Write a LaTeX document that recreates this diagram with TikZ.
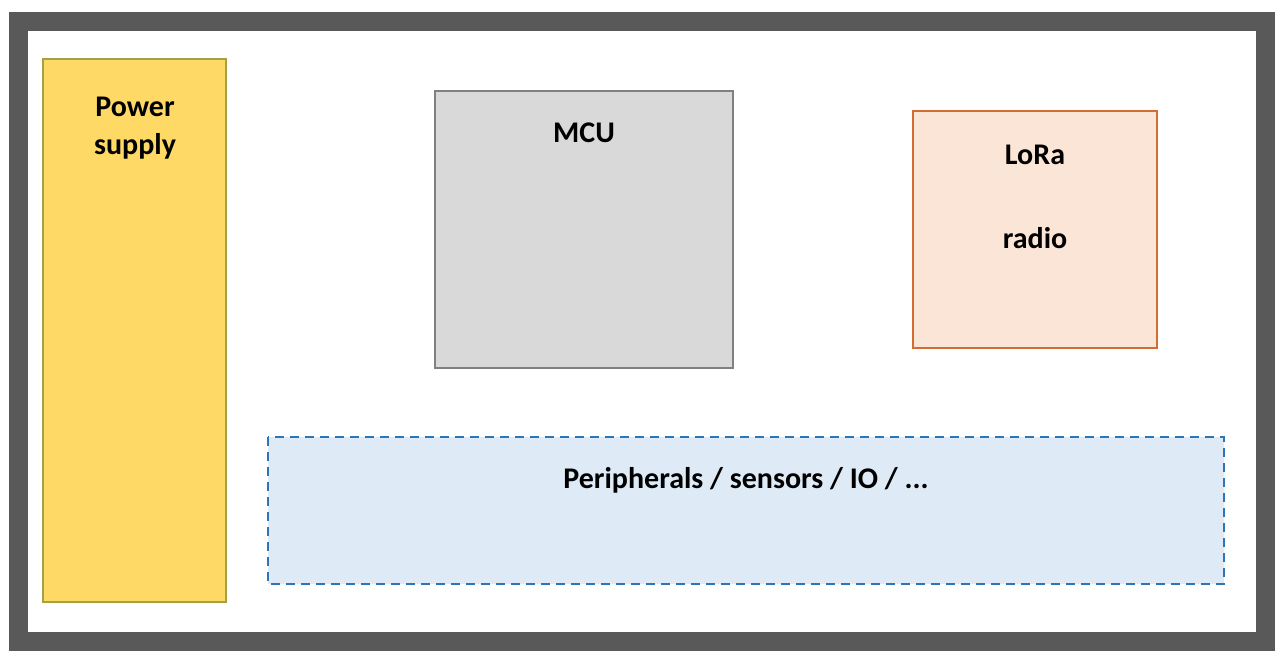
\documentclass[tikz,border=0pt]{standalone}
\usepackage{fontspec}
\setmainfont{Carlito}
\begin{document}
\begin{tikzpicture}[x=1pt,y=-1pt,
  box/.style={line width=1.5pt},
  lab/.style={font=\fontsize{30}{34}\selectfont\bfseries}]
\useasboundingbox (0,0) rectangle (1280,660);
\fill[white] (0,0) rectangle (1280,660);
\draw[line width=19pt,draw=black!65] (18,22) rectangle (1265,641);
\draw[box,fill=yellow!60!orange!70,draw=yellow!60!black,fill={rgb,255:red,255;green,217;blue,102}] (43,59) rectangle (226,602);
\node[lab,align=center] (ps) at (135,128) {Power\\[4pt]supply};
\draw[box,fill={rgb,255:red,217;green,217;blue,217},draw=black!50] (435,91) rectangle (733,368);
\node[lab] (mcu) at (584,133) {MCU};
\draw[box,fill={rgb,255:red,251;green,229;blue,214},draw={rgb,255:red,210;green,110;blue,50}] (913,111) rectangle (1157,348);
\node[lab] (lora) at (1035,155) {LoRa};
\node[lab] (radio) at (1035,238) {radio};
\draw[box,dashed,dash pattern=on 9pt off 6pt,fill={rgb,255:red,222;green,235;blue,247},draw={rgb,255:red,46;green,117;blue,182}] (268,437) rectangle (1224,584);
\node[lab] (per) at (746,480) {Peripherals / sensors / IO / ...};
\end{tikzpicture}
\end{document}
